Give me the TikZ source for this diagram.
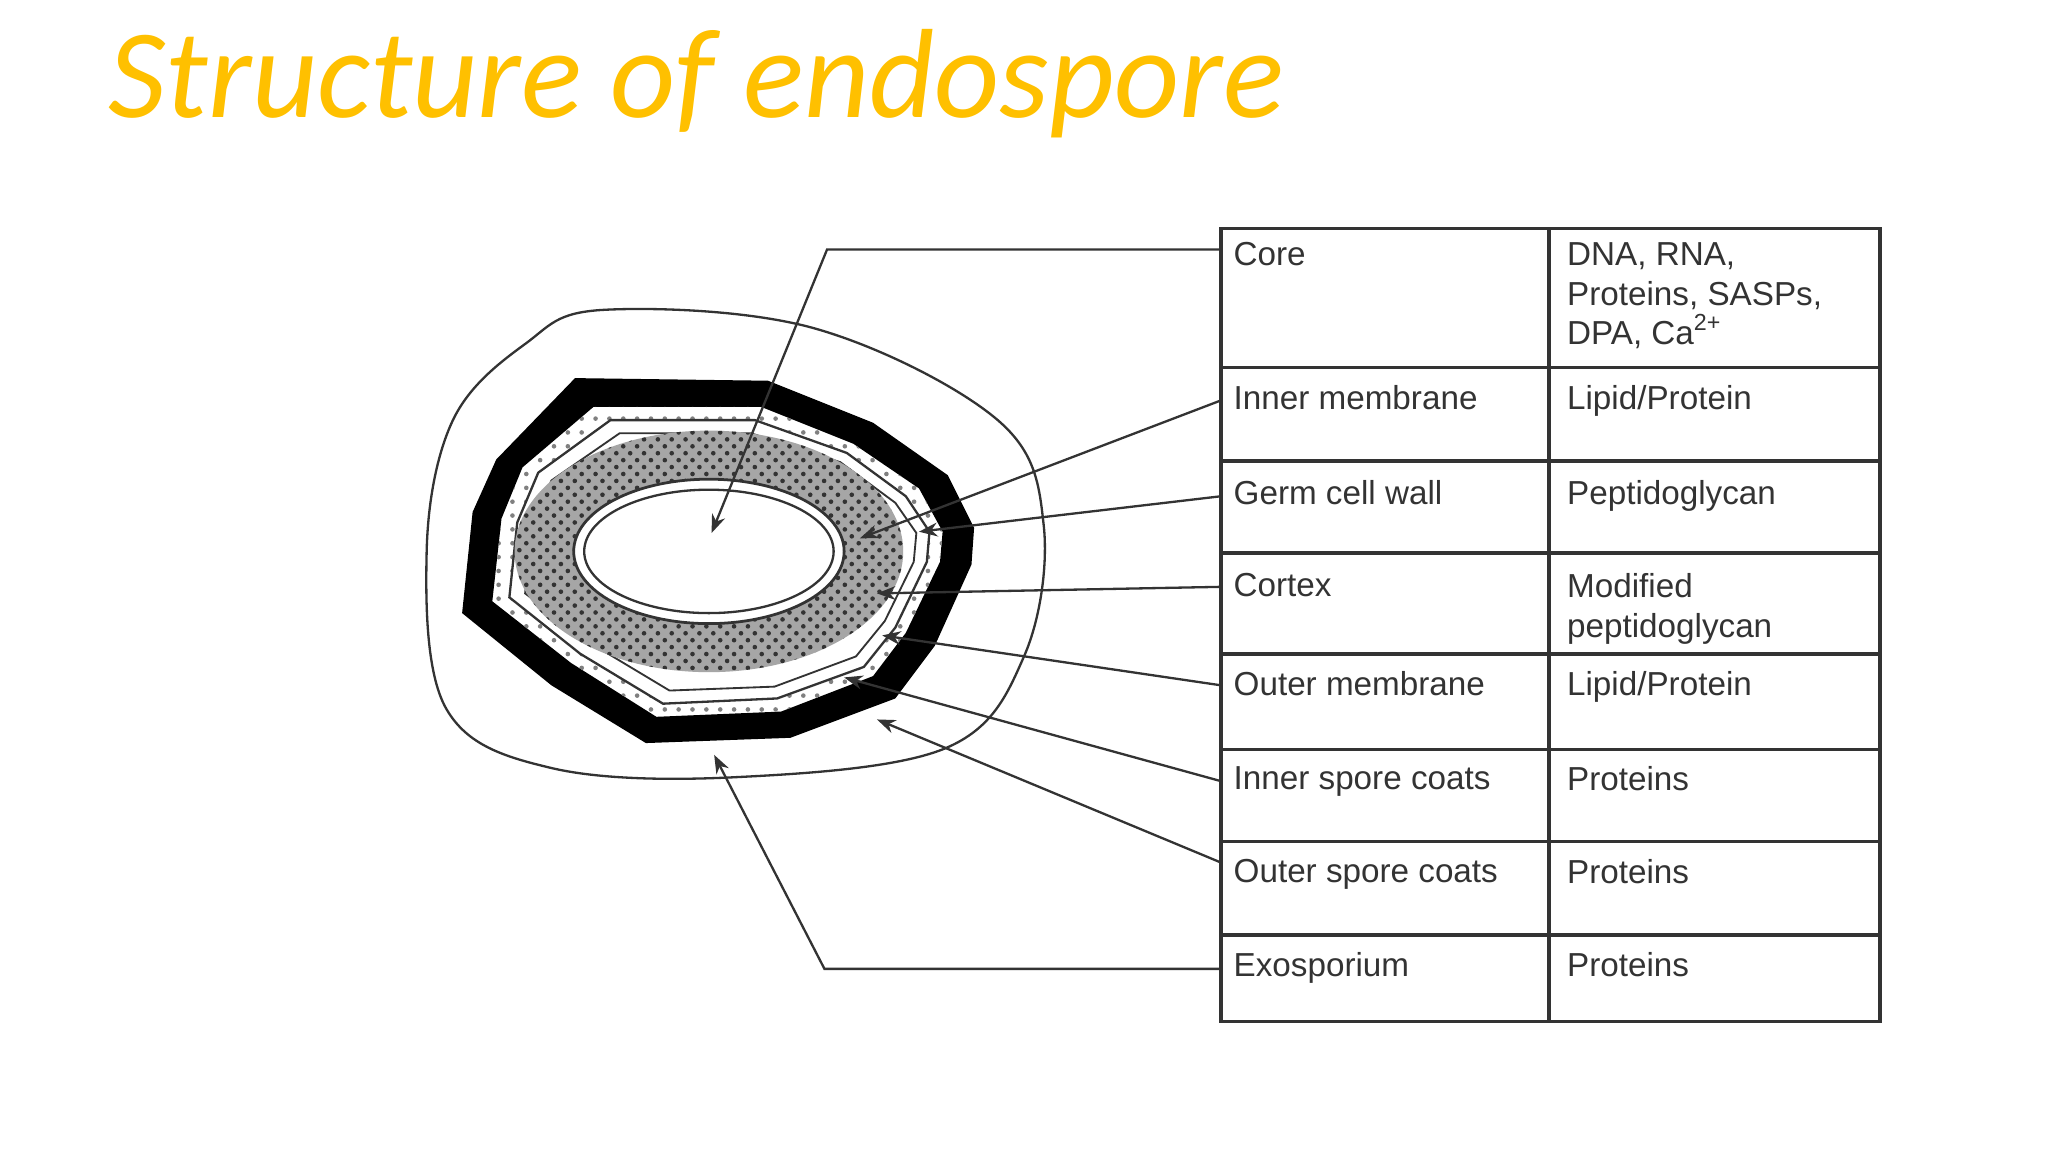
\documentclass[tikz,border=0pt]{standalone}
\usepackage{fontspec}
\setmainfont{Liberation Sans}
\newfontfamily\titlefont{Carlito}
\usetikzlibrary{arrows.meta,patterns}
\definecolor{titlecol}{HTML}{FFC000}
\definecolor{ink}{HTML}{333333}
\begin{document}
\begin{tikzpicture}[x=0.01cm,y=-0.01cm,
  cell/.style={anchor=north west,font=\fontsize{7.2}{8.6}\selectfont,text=ink,align=left,inner sep=0pt},
  lead/.style={draw=ink,line width=0.5pt,-{Stealth[length=4pt,width=3pt]}}]
\useasboundingbox (0,0) rectangle (1560,878);
\node[anchor=west,font=\titlefont\itshape\fontsize{27.5}{32}\selectfont,text=titlecol,inner sep=0pt] (title) at (82,64) {Structure of endospore};
% exosporium
\draw[ink,line width=0.5pt] plot[smooth cycle,tension=0.6] coordinates {(460,236)(620,250)(760,320)(795,400)(780,500)(720,570)(560,592)(420,585)(340,540)(325,420)(345,320)(400,262)};
% black coat
\fill[black,even odd rule] (438,288)--(585,290)--(665,322)--(722,362)--(742,402)--(740,430)--(712,492)--(682,532)--(602,562)--(492,566)--(420,522)--(352,467)--(360,390)--(378,350)--cycle
 (452,310)--(580,310)--(650,338)--(700,372)--(718,405)--(716,428)--(690,482)--(665,515)--(595,542)--(500,546)--(435,505)--(375,458)--(382,395)--(398,356)--cycle;
% outer spore coat dotted
\fill[pattern=dots,pattern color=gray] (452,310)--(580,310)--(650,338)--(700,372)--(718,405)--(716,428)--(690,482)--(665,515)--(595,542)--(500,546)--(435,505)--(375,458)--(382,395)--(398,356)--cycle;
\draw[ink,line width=0.5pt,fill=white] (465,320)--(575,320)--(645,345)--(690,378)--(708,405)--(706,428)--(682,478)--(658,508)--(592,532)--(505,536)--(442,498)--(388,455)--(394,398)--(410,360)--cycle;
\draw[ink,line width=0.4pt,fill=white] (472,330)--(572,330)--(640,352)--(682,383)--(698,406)--(696,428)--(674,473)--(652,500)--(590,523)--(510,526)--(450,490)--(400,452)--(405,400)--(420,366)--cycle;
% cortex
\fill[black!35] (540,420) ellipse [x radius=148,y radius=92];
\fill[pattern=crosshatch dots,pattern color=black!80] (540,420) ellipse [x radius=148,y radius=92];
\draw[ink,line width=0.6pt,fill=white] (540,420) ellipse [x radius=103,y radius=55];
\draw[ink,line width=0.5pt] (540,420) ellipse [x radius=95,y radius=47];
% table
\draw[ink,line width=0.8pt] (930,174) rectangle (1432,778);
\draw[ink,line width=0.8pt] (1180,174)--(1180,778);
\foreach \y in {280,351,421,498,571,641,712} \draw[ink,line width=0.8pt] (930,\y)--(1432,\y);
\node[cell] (c1) at (939,184) {Core};
\node[cell] (d1) at (1193,184) {DNA, RNA,\\Proteins, SASPs,\\DPA, Ca\textsuperscript{2+}};
\node[cell] (c2) at (939,293) {Inner membrane};
\node[cell] (d2) at (1193,293) {Lipid/Protein};
\node[cell] (c3) at (939,365) {Germ cell wall};
\node[cell] (d3) at (1193,365) {Peptidoglycan};
\node[cell] (c4) at (939,436) {Cortex};
\node[cell] (d4) at (1193,436) {Modified\\peptidoglycan};
\node[cell] (c5) at (939,511) {Outer membrane};
\node[cell] (d5) at (1193,511) {Lipid/Protein};
\node[cell] (c6) at (939,583) {Inner spore coats};
\node[cell] (d6) at (1193,583) {Proteins};
\node[cell] (c7) at (939,654) {Outer spore coats};
\node[cell] (d7) at (1193,654) {Proteins};
\node[cell] (c8) at (939,725) {Exosporium};
\node[cell] (d8) at (1193,725) {Proteins};
% leaders
\coordinate (s1) at (930,190); \coordinate (k1) at (630,190); \coordinate (e1) at (542,406);
\coordinate (s2) at (930,305); \coordinate (e2) at (655,410);
\coordinate (s3) at (930,378); \coordinate (e3) at (700,405);
\coordinate (s4) at (930,447); \coordinate (e4) at (668,452);
\coordinate (s5) at (930,522); \coordinate (e5) at (672,484);
\coordinate (s6) at (930,595); \coordinate (e6) at (643,516);
\coordinate (s7) at (930,657); \coordinate (e7) at (668,548);
\coordinate (s8) at (930,738); \coordinate (k8) at (628,738); \coordinate (e8) at (544,575);
\draw[lead] (s1)--(k1)--(e1);
\draw[lead] (s2)--(e2);
\draw[lead] (s3)--(e3);
\draw[lead] (s4)--(e4);
\draw[lead] (s5)--(e5);
\draw[lead] (s6)--(e6);
\draw[lead] (s7)--(e7);
\draw[lead] (s8)--(k8)--(e8);
\end{tikzpicture}
\end{document}
